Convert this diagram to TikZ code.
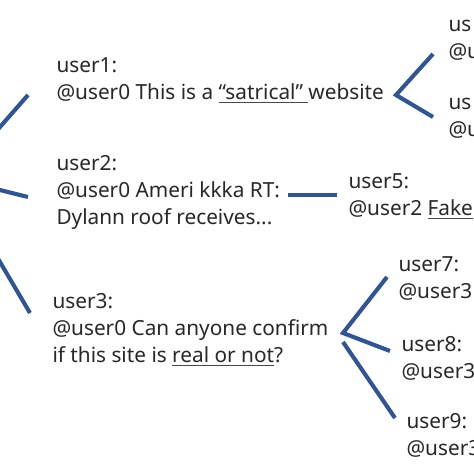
\documentclass[tikz,border=0pt]{standalone}
\usepackage{fontspec}
\setmainfont{Noto Sans}
\definecolor{linkblue}{RGB}{47,85,151}
\definecolor{txt}{RGB}{40,40,40}
\newcommand{\myul}[1]{\setbox0\hbox{#1}\rlap{\color{txt!85}\rule[-3.5pt]{\wd0}{0.9pt}}\box0}
\newcommand{\lines}[1]{\vtop{#1}}
\tikzset{
  post/.style={anchor=base west, inner sep=0pt, outer sep=0pt, text=txt,
    font=\fontsize{20.8}{27}\selectfont},
  link/.style={draw=linkblue, line width=4.1pt, line join=miter}
}
\begin{document}
\begin{tikzpicture}[x=1pt,y=-1pt]
\fill[white] (0,0) rectangle (474,474);
\useasboundingbox (0,0) rectangle (474,474);
\clip (0,0) rectangle (474,474);

% text blocks
\node[post] (u1) at (56.5,72) {\lines{\hbox{user1:}\hbox{@user0 This is a \myul{“satrical”\ }website}}};
\node[post] (u2) at (56.5,170) {\lines{\hbox{user2:}\hbox{@user0 Ameri kkka RT:}\hbox{Dylann roof receives...}}};
\node[post] (u3) at (52.5,308) {\lines{\hbox{user3:}\hbox{@user0 Can anyone confirm}\hbox{if this site is \myul{real or not}?}}};
\node[post] (u4) at (448.5,31) {\lines{\hbox{us}\hbox{@u}}};
\node[post] (u6) at (448.5,109) {\lines{\hbox{us}\hbox{@u}}};
\node[post] (u5) at (348.5,188) {\lines{\hbox{user5:}\hbox{@user2 \myul{Fake}}}};
\node[post] (u7) at (398.5,271) {\lines{\hbox{user7:}\hbox{@user3}}};
\node[post] (u8) at (401.5,351) {\lines{\hbox{user8:}\hbox{@user3}}};
\node[post] (u9) at (406.5,428) {\lines{\hbox{user9:}\hbox{@user3}}};

% connector end points
\coordinate (a1) at (-5,132.7);
\coordinate (a2) at (28,95);
\coordinate (b1) at (-5,188.8);
\coordinate (b2) at (28,197);
\coordinate (c1) at (-5,253.5);
\coordinate (c2) at (30,313);
\coordinate (f1v) at (396,95);
\coordinate (f1u) at (433,54);
\coordinate (f1l) at (433,117);
\coordinate (g1) at (288,195);
\coordinate (g2) at (337,195);
\coordinate (h1v) at (343,333);
\coordinate (h1u) at (387,277);
\coordinate (h1m) at (390,351);
\coordinate (h2s) at (343,342);
\coordinate (h2e) at (395,418);

% connectors
\draw[link] (a1) -- (a2);
\draw[link] (b1) -- (b2);
\draw[link] (c1) -- (c2);
\draw[link] (f1u) -- (f1v) -- (f1l);
\draw[link] (g1) -- (g2);
\draw[link] (h1u) -- (h1v) -- (h1m);
\draw[link] (h2s) -- (h2e);
\end{tikzpicture}
\end{document}
